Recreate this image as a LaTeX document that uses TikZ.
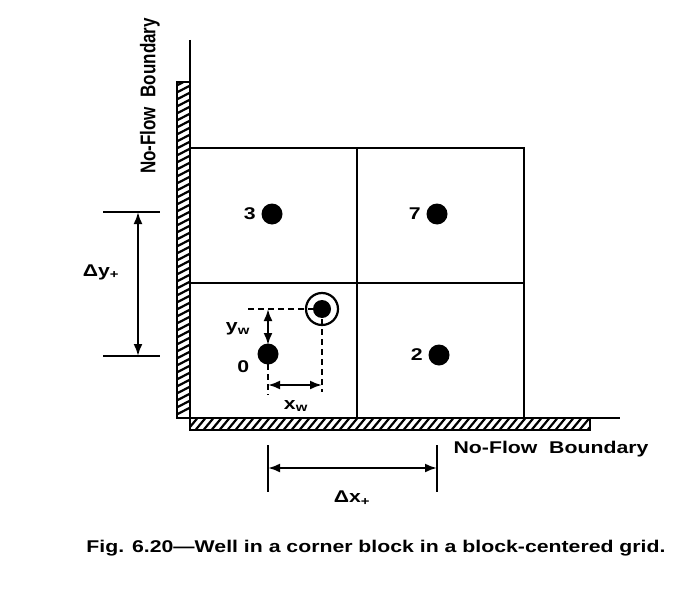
\documentclass[tikz,border=0pt]{standalone}
\usepackage{fontspec}
\setmainfont{Liberation Sans}
\usetikzlibrary{arrows.meta}
\begin{document}
\begin{tikzpicture}[x=1pt,y=-1pt,
  dot/.style={circle,fill=black,inner sep=0pt,minimum size=21pt},
  lbl/.style={font=\bfseries\fontsize{17}{19}\selectfont,xscale=1.25},
  dim/.style={line width=2.2pt,{Latex[length=12pt,width=9pt]}-{Latex[length=12pt,width=9pt]}},
  dsh/.style={line width=2.2pt,dash pattern=on 6pt off 4pt},
  ln/.style={line width=2.2pt}]
\useasboundingbox (0,0) rectangle (700,596);
\begin{scope}
\clip (177,82) rectangle (190,418);
\foreach \i in {0,7,...,350} \draw[line width=2.2pt] (170,418-\i) -- (197,418-\i-14);
\end{scope}
\draw[line width=2pt] (177,82) rectangle (190,418);
\begin{scope}
\clip (190,418) rectangle (590,430);
\foreach \i in {0,8,...,410} \draw[line width=2.2pt] (185+\i,433) -- (200+\i,415);
\end{scope}
\draw[line width=2pt] (190,418) rectangle (590,430);
\draw[ln] (190,40) -- (190,418) -- (620,418);
\draw[ln] (190,148) -- (524,148) -- (524,418);
\draw[ln] (190,283) -- (524,283);
\draw[ln] (357,148) -- (357,418);
\node[dot] (d3) at (272,214) {};
\node[dot] (d7) at (437,214) {};
\node[dot] (d0) at (268,354) {};
\node[dot] (d2) at (439,355) {};
\node[lbl,left=1pt] at (d3.west) {3};
\node[lbl,left=1pt] at (d7.west) {7};
\node[lbl,left=3pt,yshift=-13pt] at (d0.west) {0};
\node[lbl,left=1pt] at (d2.west) {2};
\node[dot,minimum size=18pt] (w) at (322,309) {};
\draw[line width=2.2pt] (w) circle (16pt);
\coordinate (c1) at (248,309);
\coordinate (c2) at (322,392);
\coordinate (c3) at (268,395);
\draw[dsh] (c1) -- (w.center);
\draw[dsh] (w.center) -- (c2);
\draw[dsh] (d0.center) -- (c3);
\draw[dim] (268,309) -- (268,345);
\draw[dim] (268,385) -- (322,385);
\node[lbl] at (238,329) {y\textsubscript{w}};
\node[lbl] at (296,406) {x\textsubscript{w}};
\draw[ln] (103,212) -- (160,212);
\draw[ln] (103,356) -- (160,356);
\draw[dim] (138,212) -- (138,356);
\node[lbl] at (101,272) {Δy\textsubscript{+}};
\draw[ln] (268,445) -- (268,492);
\draw[ln] (437,445) -- (437,492);
\draw[dim] (268,468) -- (437,468);
\node[lbl] at (352,498) {Δx\textsubscript{+}};
\node[lbl,rotate=90] at (150,96) {No-Flow\ \ Boundary};
\node[lbl] at (551,449) {No-Flow\ \ Boundary};
\node[lbl] at (376,548) {Fig. 6.20---Well in a corner block in a block-centered grid.};
\end{tikzpicture}
\end{document}
